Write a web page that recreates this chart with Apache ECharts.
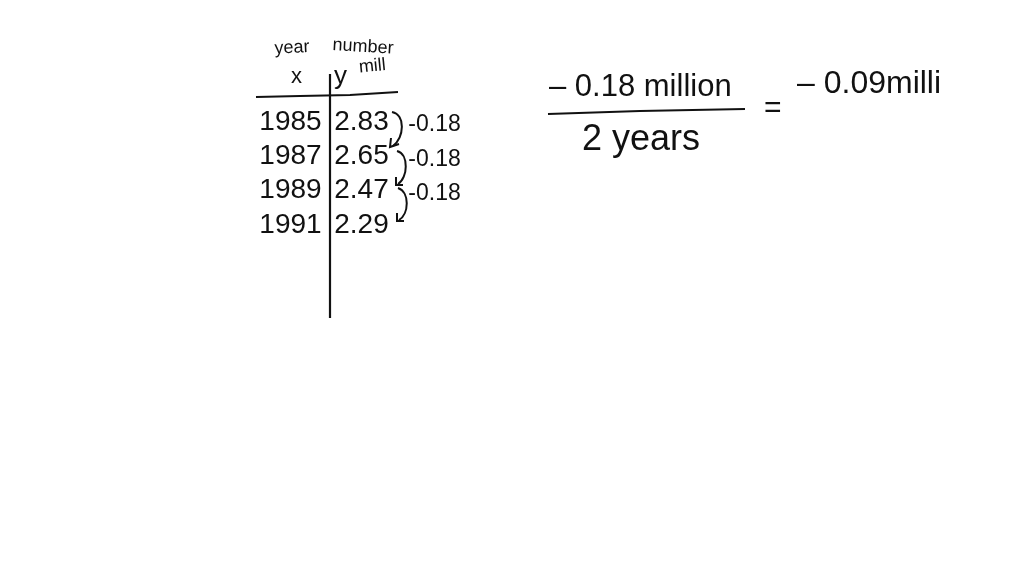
<!DOCTYPE html>
<html><head><meta charset="utf-8">
<script src="https://cdn.jsdelivr.net/npm/echarts@6/dist/echarts.min.js"></script>
<style>html,body{margin:0;padding:0;background:#fff}#c{width:1024px;height:576px}</style>
</head><body><div id="c"></div>
<script>
const years = ['1985', '1987', '1989', '1991'];
const values = [2.83, 2.65, 2.47, 2.29];
const changes = [-0.18, -0.18, -0.18];
const columns = ['x', 'y', 'change'];
const yearsStep = 2;

const FONT = '"Liberation Sans Narrow","Liberation Sans",sans-serif';
const FONT2 = '"Liberation Sans","DejaVu Sans",sans-serif';
const ink = '#111';

const chart = echarts.init(document.getElementById('c'));
const labelBase = {show: true, position: 'inside', color: ink, fontFamily: FONT};
const hidden = {color: '#fff', opacity: 1};
const rate = (changes[0] / yearsStep).toFixed(2);

chart.setOption({
  backgroundColor: '#fff',
  animation: false,
  grid: {left: 255, top: 105, width: 213, height: 137},
  xAxis: {type: 'category', data: columns, show: false},
  yAxis: {type: 'category', data: years, inverse: true, show: false},
  series: [
    {type: 'scatter', symbolSize: 0, itemStyle: hidden, silent: true,
     data: years.map(y => ['x', y]),
     label: Object.assign({}, labelBase, {fontSize: 28, formatter: p => p.value[1]})},
    {type: 'scatter', symbolSize: 0, itemStyle: hidden, silent: true,
     data: values.map((v, i) => ['y', years[i], v]),
     label: Object.assign({}, labelBase, {fontSize: 28, formatter: p => p.value[2].toFixed(2)})},
    {type: 'scatter', symbolSize: 0, itemStyle: hidden, silent: true,
     data: changes.map((c, i) => ['change', years[i], c]),
     label: Object.assign({}, labelBase, {fontSize: 23, offset: [2, 3], formatter: p => p.value[2].toFixed(2)})}
  ],
  graphic: [
    // headers
    {type: 'text', left: 274, top: 38, rotation: 0.05, style: {text: 'year', font: '18px ' + FONT2, fill: ink}},
    {type: 'text', left: 332, top: 36, rotation: -0.06, style: {text: 'number', font: '18px ' + FONT2, fill: ink}},
    {type: 'text', left: 358, top: 56, rotation: 0.1, style: {text: 'mill', font: '18px ' + FONT2, fill: ink}},
    {type: 'text', left: 291, top: 66, style: {text: columns[0], font: '22px ' + FONT2, fill: ink}},
    {type: 'text', left: 334, top: 64, style: {text: columns[1], font: '26px ' + FONT2, fill: ink}},
    // table rules
    {type: 'polyline', shape: {points: [[256, 97], [300, 96], [350, 95], [398, 92]]}, style: {stroke: ink, lineWidth: 2.2, fill: null}},
    {type: 'line', shape: {x1: 330, y1: 74, x2: 330, y2: 318}, style: {stroke: ink, lineWidth: 2.2}},
    // brackets
    {type: 'bezierCurve', shape: {x1: 392, y1: 112, x2: 393, y2: 146, cpx1: 406, cpy1: 115, cpx2: 404, cpy2: 137}, style: {stroke: ink, lineWidth: 2, fill: null}},
    {type: 'polyline', shape: {points: [[391, 138], [390, 147], [399, 144]]}, style: {stroke: ink, lineWidth: 2, fill: null}},
    {type: 'bezierCurve', shape: {x1: 397, y1: 151, x2: 398, y2: 184, cpx1: 409, cpy1: 154, cpx2: 408, cpy2: 178}, style: {stroke: ink, lineWidth: 2, fill: null}},
    {type: 'polyline', shape: {points: [[396, 177], [396, 185], [403, 185]]}, style: {stroke: ink, lineWidth: 2, fill: null}},
    {type: 'bezierCurve', shape: {x1: 398, y1: 188, x2: 399, y2: 220, cpx1: 410, cpy1: 192, cpx2: 409, cpy2: 214}, style: {stroke: ink, lineWidth: 2, fill: null}},
    {type: 'polyline', shape: {points: [[397, 213], [397, 221], [404, 221]]}, style: {stroke: ink, lineWidth: 2, fill: null}},
    // equation
    {type: 'text', left: 549, top: 72, style: {text: '\u2013 ' + Math.abs(changes[0]).toFixed(2) + ' million', font: '31px ' + FONT2, fill: ink}},
    {type: 'polyline', shape: {points: [[548, 114], [640, 111], [745, 109]]}, style: {stroke: ink, lineWidth: 2.2, fill: null}},
    {type: 'text', left: 582, top: 122, style: {text: yearsStep + ' years', font: '36px ' + FONT2, fill: ink}},
    {type: 'text', left: 764, top: 94, style: {text: '=', font: '30px ' + FONT2, fill: ink}},
    {type: 'text', left: 797, top: 68, style: {text: '\u2013 ' + Math.abs(rate).toFixed(2) + 'milli', font: '32px ' + FONT2, fill: ink}}
  ]
});
</script></body></html>
